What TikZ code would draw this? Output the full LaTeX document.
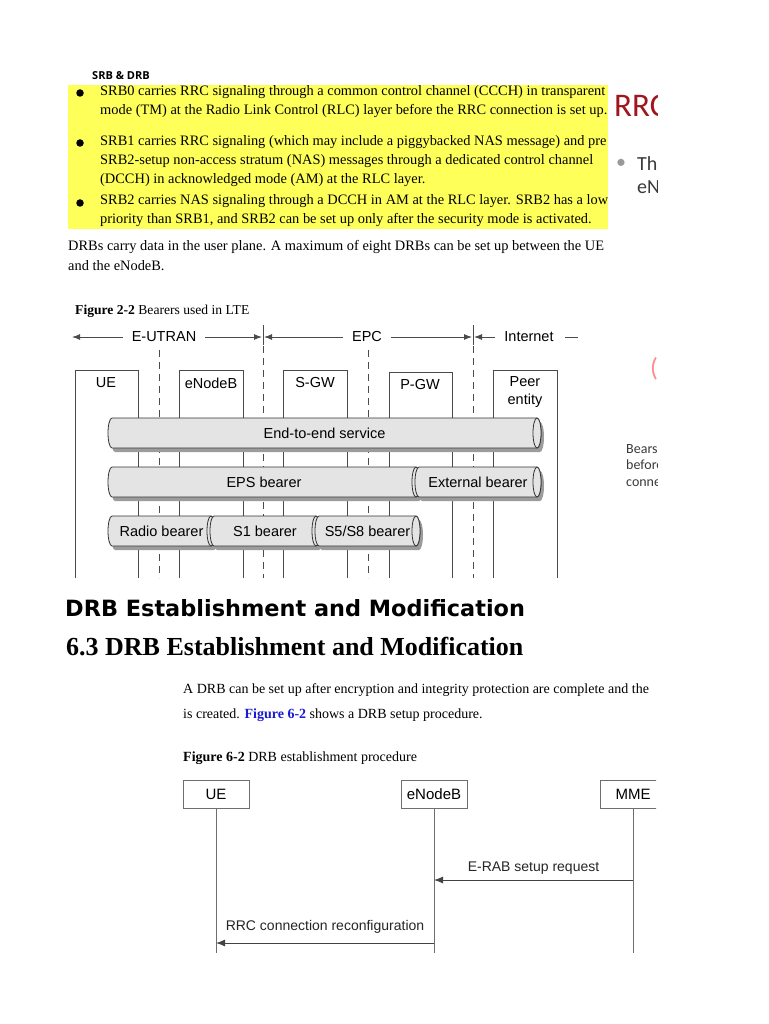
\documentclass[tikz,border=0pt]{standalone}
\usepackage{fontspec}
\setmainfont{Liberation Serif}
\newfontfamily\armf{Liberation Sans}
\newfontfamily\dejaf{DejaVu Sans}
\newfontfamily\carlf{Carlito}
\newfontfamily\opsf{Open Sans}
\usepackage{xcolor}
\usetikzlibrary{calc,arrows.meta,positioning}
\definecolor{hiyel}{HTML}{FFFF5A}
\definecolor{rrcred}{HTML}{A0161E}
\definecolor{linegr}{HTML}{4A4A4A}
\definecolor{pipegr}{HTML}{E4E4E4}
\definecolor{shadgr}{HTML}{9C9C9C}
\definecolor{seqgr}{HTML}{6E6E6E}
\definecolor{figblue}{HTML}{1A1AD0}
\definecolor{slidegr}{HTML}{3A3A3A}
\tikzset{
  body/.style={anchor=base west,inner sep=0pt,font=\fontsize{14.4}{16}\selectfont},
  dot/.style={circle,fill=black,inner sep=0pt,minimum size=7.5pt},
  lbl/.style={inner sep=0pt,font=\armf\fontsize{14.5}{18}\selectfont},
  zone/.style={-{Latex[length=8pt,width=6pt]},linegr,line width=1pt,shorten <=9pt},
  sep/.style={linegr,line width=1pt,dash pattern=on 7pt off 5pt},
  wall/.style={linegr,line width=0.8pt},
  pipebody/.style={draw=black!80,fill=pipegr,line width=0.8pt},
  seqbox/.style={draw=seqgr,line width=0.9pt,minimum width=66pt,minimum height=28pt,inner sep=0pt,font=\armf\fontsize{15}{17}\selectfont},
  life/.style={seqgr,line width=1pt},
  msg/.style={-{Latex[length=9pt,width=7pt]},seqgr!60!black,line width=1pt},
  msgtxt/.style={font=\armf\fontsize{14}{16}\selectfont,inner sep=0pt,text=black!85},
  side/.style={anchor=west,inner sep=0pt}
}
\newcommand{\pipe}[6]{%
  \pgfmathsetmacro\piperad{(#5-#4)/2}
  \pgfmathsetmacro\pipemid{(#4+#5)/2}
  \fill[shadgr] (#2+7,#4+4) -- (#3-1,#4+4) arc[start angle=-90,end angle=90,x radius=4,y radius=\piperad] -- (#2+7,#5+4) arc[start angle=90,end angle=270,x radius=4,y radius=\piperad] -- cycle;
  \path[pipebody] (#2+4,#4) -- (#3-4,#4) arc[start angle=-90,end angle=90,x radius=4,y radius=\piperad] -- (#2+4,#5) arc[start angle=90,end angle=270,x radius=4,y radius=\piperad] -- cycle;
  \draw[pipebody] (#3-4,\pipemid) ellipse[x radius=4,y radius=\piperad];
  \node[lbl] (#1) at ({(#2+#3)/2},\pipemid) {#6};
}

\begin{document}
\begin{tikzpicture}[x=1pt,y=-1pt]
\useasboundingbox (0,0) rectangle (768,1024);
\fill[white] (0,0) rectangle (768,1024);
\node[side,font=\opsf\bfseries\fontsize{11}{13}\selectfont] (srbhead) at (92,76) {SRB \& DRB};
\begin{scope}
\clip (0,60) rectangle (608,290);
\fill[hiyel] (68,85) rectangle (608,229);
\node[dot] (b1) at (80,93) {};
\node[dot] (b2) at (80,143) {};
\node[dot] (b3) at (80,203) {};
\node[body] (l1) at (100,96) {SRB0 carries RRC signaling through a common control channel (CCCH) in transparent};
\node[body] (l2) at (100,115) {mode (TM) at the Radio Link Control (RLC) layer before the RRC connection is set up.};
\node[body] (l3) at (100,146) {SRB1 carries RRC signaling (which may include a piggybacked NAS message) and pre};
\node[body] (l4) at (100,165) {SRB2-setup non-access stratum (NAS) messages through a dedicated control channel};
\node[body] (l5) at (100,184) {(DCCH) in acknowledged mode (AM) at the RLC layer.};
\node[body] (l6) at (100,205) {SRB2 carries NAS signaling through a DCCH in AM at the RLC layer. SRB2 has a low};
\node[body] (l7) at (100,224) {priority than SRB1, and SRB2 can be set up only after the security mode is activated.};
\node[body] (d1) at (68,251) {DRBs carry data in the user plane. A maximum of eight DRBs can be set up between the UE};
\node[body] (d2) at (68,270) {and the eNodeB.};
\end{scope}
\begin{scope}
\clip (609,60) rectangle (657,500);
\node[side,font=\carlf\fontsize{33}{36}\selectfont,text=rrcred] (rrc) at (614,106) {RRC};
\node[side,font=\carlf\fontsize{20}{22}\selectfont,text=black!40] (b4) at (616,164) {•};
\node[side,font=\carlf\fontsize{20}{22}\selectfont,text=slidegr] (th) at (637,164) {The};
\node[side,font=\carlf\fontsize{20}{22}\selectfont,text=slidegr] (en) at (637,187) {eNodeB};
\node[side,font=\carlf\fontsize{26}{28}\selectfont,text=red!45] (paren) at (650,369) {(};
\node[side,font=\carlf\fontsize{14}{16}\selectfont,text=slidegr] (bs1) at (626,449) {Bears};
\node[side,font=\carlf\fontsize{14}{16}\selectfont,text=slidegr] (bs2) at (626,465) {before};
\node[side,font=\carlf\fontsize{14}{16}\selectfont,text=slidegr] (bs3) at (626,482) {connection};
\end{scope}
\node[body,font=\fontsize{13.6}{16}\selectfont] (fig22) at (75,314) {\textbf{Figure 2-2} Bearers used in LTE};
\node[lbl] (eutran) at (164,337) {E-UTRAN};
\node[lbl] (epc) at (367,337) {EPC};
\node[lbl] (inet) at (529,337) {Internet};
\draw[zone] (eutran.west) -- (72,337);
\draw[zone] (eutran.east) -- (262,337);
\draw[zone] (epc.west) -- (264,337);
\draw[zone] (epc.east) -- (472,337);
\draw[zone] (inet.west) -- (474,337);
\draw[linegr,line width=1pt,shorten <=11pt] (inet.east) -- (578,337);
\draw[wall] (263,325) -- (263,345);
\draw[wall] (473,325) -- (473,345);
\draw[sep] (159,350) -- (159,578);
\draw[sep] (263,346) -- (263,578);
\draw[sep] (368,350) -- (368,578);
\draw[sep] (473,346) -- (473,578);
\draw[wall] (75,578) |- (138,370) -- (138,578);
\draw[wall] (179,578) |- (243,370) -- (243,578);
\draw[wall] (283,578) |- (347,370) -- (347,578);
\draw[wall] (389,578) |- (452,372) -- (452,578);
\draw[wall] (493,578) |- (557,370) -- (557,578);
\node[lbl] (ue) at (106,383) {UE};
\node[lbl] (enb) at (211,383) {eNodeB};
\node[lbl] (sgw) at (315,383) {S-GW};
\node[lbl] (pgw) at (420,385) {P-GW};
\node[lbl,align=center] (peer) at (525,392) {Peer\\entity};
\pipe{e2e}{108}{541}{418}{448}{End-to-end service}
\pipe{eps}{108}{420}{467}{497}{EPS bearer}
\pipe{ext}{415}{541}{467}{497}{External bearer}
\pipe{radio}{108}{215}{516}{546}{Radio bearer}
\pipe{sone}{210}{320}{516}{546}{S1 bearer}
\pipe{sfive}{315}{420}{516}{546}{S5/S8 bearer}
\node[anchor=west,inner sep=0pt,font=\dejaf\bfseries\fontsize{22.4}{25}\selectfont] (head1) at (65,608) {DRB Establishment and Modification};
\node[anchor=west,inner sep=0pt,font=\bfseries\fontsize{26}{30}\selectfont] (head2) at (66,647) {6.3 DRB Establishment and Modification};
\begin{scope}
\clip (150,670) rectangle (656,730);
\node[body,font=\fontsize{14}{16}\selectfont] (p1) at (183,693) {A DRB can be set up after encryption and integrity protection are complete and the};
\end{scope}
\node[body,font=\fontsize{14}{16}\selectfont] (p2) at (183,718) {is created. \textcolor{figblue}{\textbf{Figure 6-2}} shows a DRB setup procedure.};
\node[body,font=\fontsize{14}{16}\selectfont] (fig62) at (183,761) {\textbf{Figure 6-2} DRB establishment procedure};
\coordinate (bot) at (0,953);
\coordinate (m1) at (0,880);
\coordinate (m2) at (0,943);
\node[seqbox] (sue) at (216,794) {UE};
\node[seqbox] (senb) at (434,794) {eNodeB};
\begin{scope}
\clip (590,770) rectangle (656,960);
\node[seqbox] (smme) at (633,794) {MME};
\end{scope}
\draw[life] (sue.south) -- (sue.south |- bot);
\draw[life] (senb.south) -- (senb.south |- bot);
\draw[life] (smme.south) -- (smme.south |- bot);
\draw[msg] (smme.south |- m1) -- (senb.south |- m1) node[midway,above=5pt,msgtxt] (erab) {E-RAB setup request};
\draw[msg] (senb.south |- m2) -- (sue.south |- m2) node[midway,above=9pt,msgtxt] (rrccr) {RRC connection reconfiguration};
\end{tikzpicture}
\end{document}
